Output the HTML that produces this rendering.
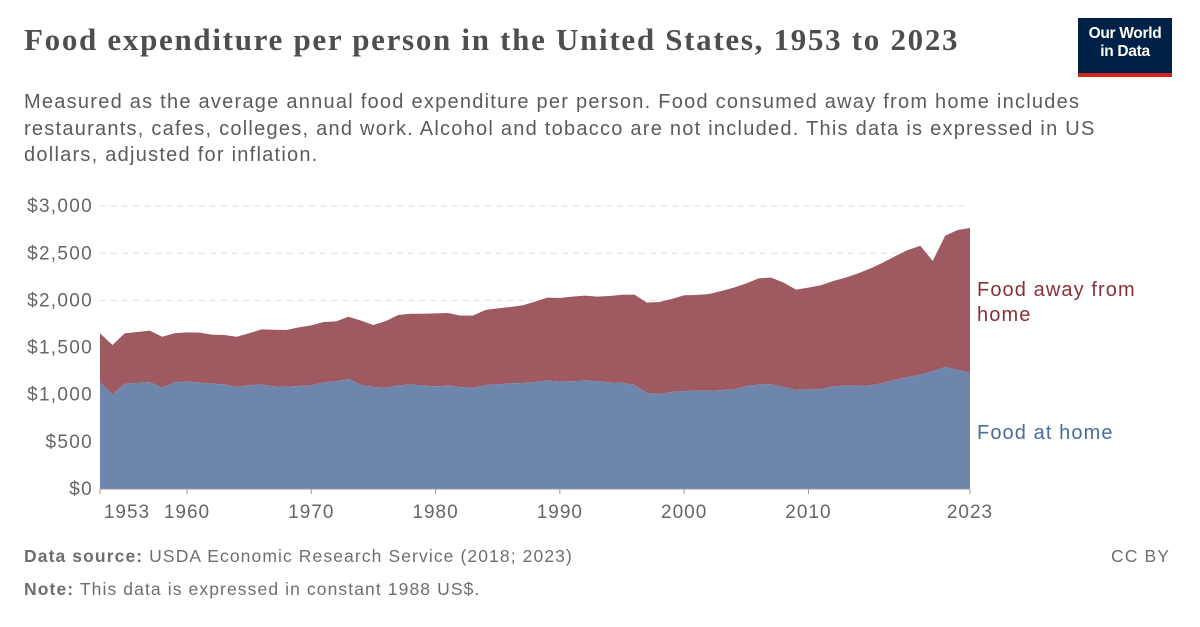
<!DOCTYPE html>
<html><head><meta charset="utf-8">
<style>
body{margin:0;width:1200px;height:627px;background:#fff;font-family:"Liberation Sans",sans-serif;overflow:hidden;position:relative}
.t{position:absolute;white-space:nowrap}
</style></head><body>
<div class="t" style="left:24px;top:22px;font-family:'Liberation Serif',serif;font-size:31px;color:#4e4e4e;font-weight:bold;letter-spacing:1.7px">Food expenditure per person in the United States, 1953 to 2023</div>
<div style="position:absolute;left:1078px;top:18px;width:94px;height:59px;background:#002147">
<div class="t" style="left:0;width:94px;top:7px;text-align:center;color:#fff;font-size:15.5px;line-height:18px;font-weight:bold;letter-spacing:-0.3px">Our World<br>in Data</div>
<div style="position:absolute;left:0;bottom:0;width:94px;height:4px;background:#ce261e"></div></div>
<div class="t" style="left:24px;top:89px;font-size:20px;line-height:26.5px;color:#5b5b5b;letter-spacing:1.25px">Measured as the average annual food expenditure per person. Food consumed away from home includes<br>restaurants, cafes, colleges, and work. Alcohol and tobacco are not included. This data is expressed in US<br>dollars, adjusted for inflation.</div>
<svg id="ch" width="1200" height="627" style="position:absolute;left:0;top:0"></svg>
<div class="t" style="left:24px;top:546px;font-size:17.5px;color:#6e6e6e;letter-spacing:1.1px"><b>Data source:</b> USDA Economic Research Service (2018; 2023)</div>
<div class="t" style="right:30px;top:546px;font-size:17.5px;color:#6e6e6e;letter-spacing:1.1px">CC BY</div>
<div class="t" style="left:24px;top:579px;font-size:17.5px;color:#6e6e6e;letter-spacing:1.1px"><b>Note:</b> This data is expressed in constant 1988 US$.</div>
<script>
const years=[];for(let y=1953;y<=2023;y++)years.push(y);
const home=[1131,1004,1117,1124,1134,1074,1131,1138,1131,1117,1110,1081,1099,1110,1088,1085,1092,1099,1131,1142,1166,1103,1081,1074,1099,1110,1096,1088,1096,1081,1074,1103,1110,1120,1124,1135,1149,1140,1142,1149,1142,1131,1128,1103,1021,1007,1028,1039,1042,1042,1049,1057,1089,1110,1110,1082,1050,1060,1057,1089,1096,1096,1099,1124,1159,1188,1212,1251,1294,1265,1230];
const total=[1651,1527,1651,1665,1679,1615,1651,1661,1658,1637,1633,1615,1651,1693,1689,1686,1714,1735,1771,1778,1827,1785,1739,1781,1845,1859,1859,1863,1866,1838,1838,1898,1916,1930,1947,1987,2029,2025,2040,2050,2040,2047,2060,2061,1976,1983,2015,2054,2057,2068,2100,2135,2181,2234,2241,2188,2114,2135,2160,2206,2241,2287,2340,2400,2471,2534,2580,2418,2686,2747,2768];
const yTicks=[0,500,1000,1500,2000,2500,3000];
const yTickLabels=["$0","$500","$1,000","$1,500","$2,000","$2,500","$3,000"];
const xTicks=[1953,1960,1970,1980,1990,2000,2010,2023];
const NS="http://www.w3.org/2000/svg",svg=document.getElementById('ch');
const X=y=>100+(y-1953)*(870/70), Y=v=>489-v*0.0943;
function el(t,a){const e=document.createElementNS(NS,t);for(const k in a)e.setAttribute(k,a[k]);svg.appendChild(e);return e;}
yTicks.forEach((v,i)=>{
 if(v>0){const g=el('line',{x1:100,x2:970,y1:Y(v),y2:Y(v),stroke:'#ddd','stroke-dasharray':'6,5'});
 
 }
 const t=el('text',{x:93,y:Y(v)+6,'text-anchor':'end','font-size':19,'letter-spacing':1.3,fill:'#666','font-family':'Liberation Sans'});t.textContent=yTickLabels[i];
 
 
});
let p1='M'+X(1953)+','+Y(0);years.forEach((y,i)=>p1+='L'+X(y)+','+Y(home[i]));p1+='L'+X(2023)+','+Y(0)+'Z';
let p2='M'+X(1953)+','+Y(home[0]);years.forEach((y,i)=>p2+='L'+X(y)+','+Y(total[i]));
for(let i=years.length-1;i>=0;i--)p2+='L'+X(years[i])+','+Y(home[i]);p2+='Z';
const a2=el('path',{d:p2,fill:'#9e5961'});


const a1=el('path',{d:p1,fill:'#6e85ac'});


const ax=el('line',{x1:100,x2:970,y1:489,y2:489,stroke:'#999'});


xTicks.forEach(y=>{
 const tk=el('line',{x1:X(y),x2:X(y),y1:489,y2:494,stroke:'#999'});
 
 
 let x=X(y);if(y===1953)x=X(y)+27;
 const t=el('text',{x:x,y:518,'text-anchor':'middle','font-size':19,'letter-spacing':1,fill:'#666','font-family':'Liberation Sans'});t.textContent=y;
 
 
});
[['Food away from',296,'#883039'],['home',321,'#883039'],['Food at home',439,'#4c6a9c']].forEach(d=>{
 const t=el('text',{x:977,y:d[1],'font-size':20,'letter-spacing':1.1,fill:d[2],'font-family':'Liberation Sans'});t.textContent=d[0];
 
 
});
</script>
</body></html>
